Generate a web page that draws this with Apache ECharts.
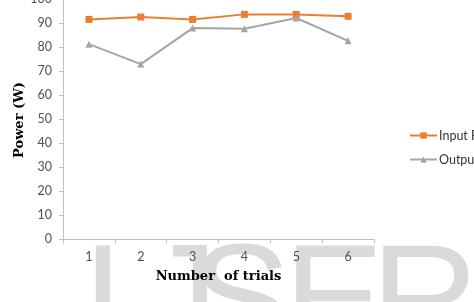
<!DOCTYPE html>
<html>
<head>
<meta charset="utf-8">
<script src="https://cdn.jsdelivr.net/npm/echarts@6/dist/echarts.min.js"></script>
<style>html,body{margin:0;padding:0;background:#fff}#c{width:474px;height:302px}</style>
</head>
<body>
<div id="c"></div>
<script>
var categories = ['1', '2', '3', '4', '5', '6'];
var inputPower = [91.5, 92.5, 91.5, 93.6, 93.6, 92.8];
var outputPower = [81.2, 72.9, 87.9, 87.6, 92.1, 82.6];
var seriesNames = ['Input Power', 'Output Power'];
var yAxisTitle = 'Power (W)';
var xAxisTitle = 'Number  of trials';
var watermarkLetters = ['I', 'J', 'S', 'E', 'R'];
var watermarkX = [82, 143, 191, 284, 371];

var chart = echarts.init(document.getElementById('c'), null, {renderer: 'canvas'});
var axisColor = '#bfbfbf';
var labelColor = '#505050';
var graphics = watermarkLetters.map(function (ch, i) {
  return {
    type: 'text', left: watermarkX[i], top: 233, z: -10, silent: true,
    style: {text: ch, font: '150px "Liberation Sans", Arial, sans-serif', fill: '#dadada'}
  };
});
graphics.push({
  type: 'text', x: 20, y: 120, rotation: Math.PI / 2, z: 10, silent: true,
  style: {text: yAxisTitle, fill: '#000', font: 'bold 13px "DejaVu Serif", serif', align: 'center', verticalAlign: 'middle'}
});
chart.setOption({
  animation: false,
  backgroundColor: '#ffffff',
  graphic: graphics,
  grid: {left: 63, top: -1, width: 311, height: 240.3, containLabel: false, outerBoundsMode: 'none'},
  legend: {
    orient: 'vertical', left: 404, top: 124, itemGap: 11,
    itemWidth: 27, itemHeight: 8,
    textStyle: {color: '#333333', fontSize: 12.5, fontFamily: 'Lato, sans-serif', padding: [0, 0, 0, -3]},
    data: seriesNames
  },
  xAxis: {
    type: 'category', data: categories, boundaryGap: true,
    name: xAxisTitle, nameLocation: 'middle', nameGap: 31,
    nameTextStyle: {color: '#000', fontSize: 13, fontWeight: 'bold', fontFamily: '"DejaVu Serif", serif'},
    axisLine: {lineStyle: {color: axisColor, width: 1}},
    axisTick: {show: true, interval: 0, length: 4, lineStyle: {color: axisColor}},
    axisLabel: {color: labelColor, fontSize: 12.5, margin: 11, fontFamily: 'Lato, sans-serif'}
  },
  yAxis: {
    type: 'value', min: 0, max: 100, interval: 10,
    axisLine: {show: true, lineStyle: {color: axisColor, width: 1}},
    axisTick: {show: true, length: 4, lineStyle: {color: axisColor}},
    splitLine: {show: false},
    axisLabel: {color: labelColor, fontSize: 12.5, margin: 11, fontFamily: 'Lato, sans-serif'}
  },
  series: [
    {
      name: seriesNames[0], type: 'line', data: inputPower,
      symbol: 'rect', symbolSize: 7,
      lineStyle: {color: '#ED7D31', width: 2},
      itemStyle: {color: '#ED7D31'}
    },
    {
      name: seriesNames[1], type: 'line', data: outputPower,
      symbol: 'triangle', symbolSize: 7,
      lineStyle: {color: '#A5A5A5', width: 2},
      itemStyle: {color: '#A5A5A5'}
    }
  ]
});
</script>
</body>
</html>
